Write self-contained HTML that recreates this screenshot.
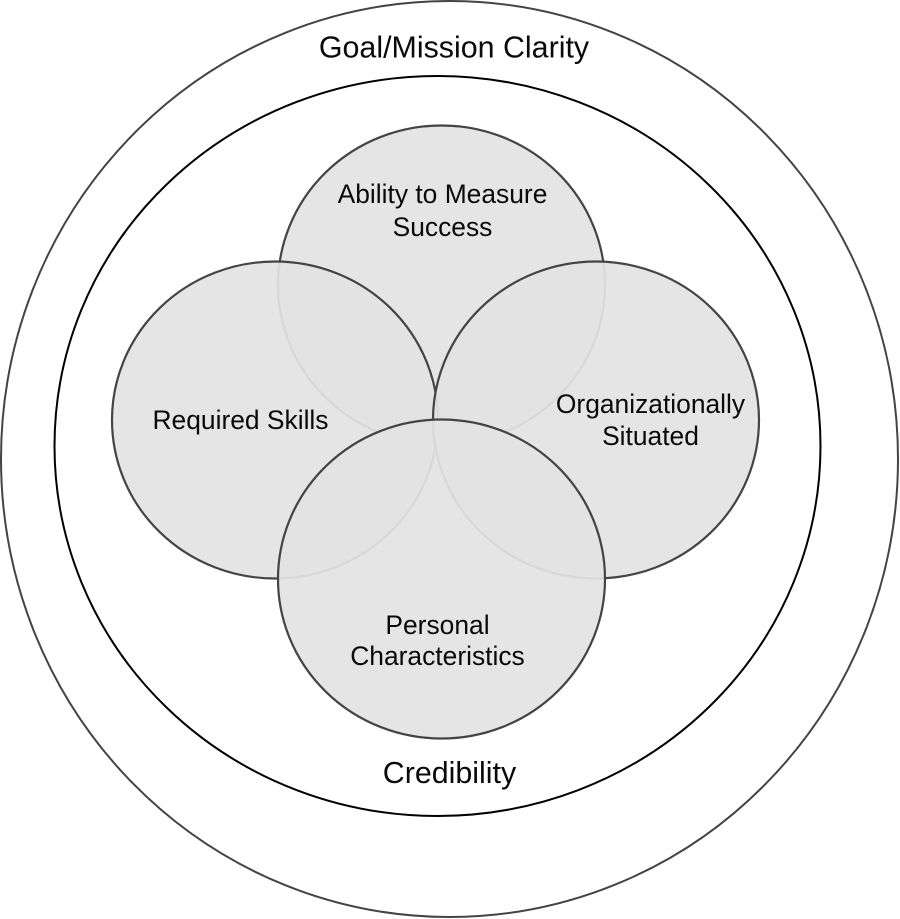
<!DOCTYPE html>
<html>
<head>
<meta charset="utf-8">
<style>
html,body{margin:0;padding:0;background:#fff;width:900px;height:919px;overflow:hidden}
svg{display:block}
text{font-family:"Liberation Sans",Arial,sans-serif;fill:#0a0a0a;text-anchor:middle}
.big{font-size:30.4px}
.mid{font-size:26.4px}
.e{fill:#e3e3e3;fill-opacity:.93;stroke:#444;stroke-width:2.2}
</style>
</head>
<body>
<svg width="900" height="919" viewBox="0 0 900 919" xmlns="http://www.w3.org/2000/svg">
<ellipse cx="449.5" cy="459" rx="448.5" ry="458" fill="none" stroke="#444" stroke-width="2"/>
<ellipse cx="437.5" cy="446" rx="383" ry="370" fill="none" stroke="#000" stroke-width="2"/>
<ellipse class="e" cx="441.5" cy="285" rx="163.5" ry="159.5"/>
<ellipse class="e" cx="275" cy="420" rx="163" ry="158.5"/>
<ellipse class="e" cx="596" cy="420" rx="163" ry="158.5"/>
<ellipse class="e" cx="441.5" cy="579" rx="163.5" ry="159.5"/>
<text class="big" x="454" y="57.5">Goal/Mission Clarity</text>
<text class="big" x="449.5" y="783">Credibility</text>
<text class="mid" x="442.5" y="203">Ability to Measure</text>
<text class="mid" x="442.5" y="236">Success</text>
<text class="mid" x="240.5" y="429">Required Skills</text>
<text class="mid" x="650.5" y="413">Organizationally</text>
<text class="mid" x="650.5" y="445">Situated</text>
<text class="mid" x="437.5" y="634">Personal</text>
<text class="mid" x="437.5" y="665">Characteristics</text>
</svg>
</body>
</html>
